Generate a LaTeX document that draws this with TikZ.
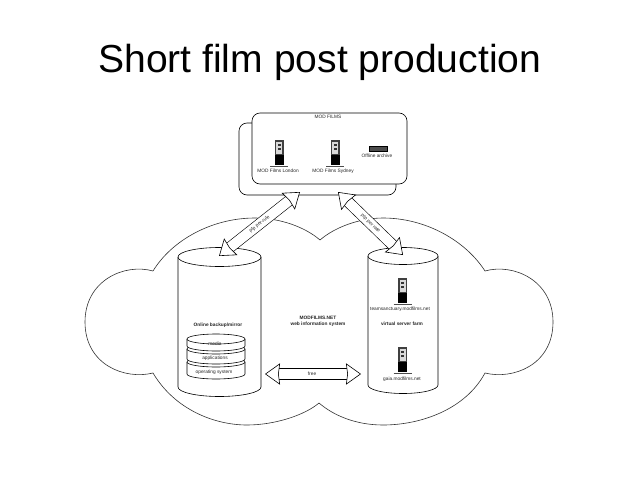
\documentclass[tikz,border=0pt]{standalone}
\usepackage{fontspec}
\setmainfont{Liberation Sans}
\usetikzlibrary{arrows.meta}
\tikzset{
    small label/.style={font=\fontsize{3.6}{4.2}\selectfont, inner sep=0pt, text=black!85},
    bold label/.style={font=\fontsize{3.6}{4.4}\selectfont\bfseries, inner sep=0pt, align=center, text=black!85},
    link/.style={double, double distance=7.5pt, line width=0.45pt,
        {Stealth[length=11.25pt, width=16pt, inset=1pt, fill=white]}-{Stealth[length=11.25pt, width=16pt, inset=1pt, fill=white]}},
    panel/.style={draw, fill=white, rounded corners=6pt, line width=0.45pt},
    server/.pic={
        \fill[black!75] (-4.5,0) rectangle (4.5,25); % Tower
        \fill[black!15] (-3,2) rectangle (3,14);     % Front panel
        \fill[black!80] (-1.5,4) rectangle (1.5,6);  % Slots
        \fill[black!80] (-1.5,8) rectangle (1.5,10);
        \fill[black] (-4.5,15) rectangle (4.5,25);   % Lower part
        \draw[line width=0.7pt, black!70] (-9,26) -- (9,26); % Foot
    }
}
% centre x, top y, bottom y, x radius, y radius
\newcommand{\drum}[5]{%
    \draw[fill=white, line width=0.45pt] (#1-#4,#2) -- (#1-#4,#3)
        arc[start angle=180, end angle=0, x radius=#4, y radius=#5] -- (#1+#4,#2);
    \draw[fill=white, line width=0.45pt] (#1,#2) ellipse[x radius=#4, y radius=#5];
}
\begin{document}
\begin{tikzpicture}[x=0.75pt, y=-0.75pt]
    \useasboundingbox (0,0) rectangle (638,478);

    % Title
    \node[anchor=base west, inner sep=0pt, font=\fontsize{29.3}{34}\selectfont] (title) at (98,72) {Short film post production};

    % Cloud
    \draw[line width=0.45pt, black!80] (153,271) .. controls (125,263) and (85,280) .. (85,322)
        .. controls (85,365) and (125,380) .. (153,373)
        .. controls (175,410) and (215,425) .. (247,425)
        .. controls (275,425) and (305,415) .. (319,403)
        .. controls (333,415) and (355,425) .. (383,425)
        .. controls (420,425) and (465,410) .. (485,373)
        .. controls (513,380) and (553,365) .. (553,322)
        .. controls (553,280) and (513,263) .. (485,271)
        .. controls (465,240) and (425,218) .. (383,218)
        .. controls (360,218) and (335,227) .. (320,240)
        .. controls (305,227) and (280,218) .. (255,218)
        .. controls (212,218) and (172,240) .. (153,271);

    % Offices
    \path[panel] (239,123) rectangle (396,195);
    \path[panel] (252,113) rectangle (407,184);
    \node[small label] (films) at (328,117) {MOD FILMS};
    \pic at (279,140) {server};
    \pic at (335,140) {server};
    \node[small label] (london) at (278,171) {MOD Films London};
    \node[small label] (sydney) at (333,171) {MOD Films Sydney};
    \node[draw, fill=black!70, minimum width=13.5pt, minimum height=3.75pt, inner sep=0pt] (archive) at (378,148.5) {};
    \node[small label] (archivelabel) at (377,156) {Offline archive};

    % Storage
    \drum{219.5}{257}{387}{41.5}{9.5}
    \drum{403}{256}{385}{35}{8.5}
    \node[small label] (backuplabel) at (218,325) {\textbf{Online backup/mirror}};
    \foreach \t/\b in {362/374, 349/359, 339/346} {
        \drum{216}{\t}{\b}{29}{5}
    }
    \node[small label] (media) at (215,344) {media};
    \node[small label] (apps) at (215,358) {applications};
    \node[small label] (system) at (214,372) {operating system};

    % Virtual servers
    \pic at (402.5,278) {server};
    \pic at (402.5,347) {server};
    \node[small label] (sanctuary) at (400,309) {teamsanctuary.modfilms.net};
    \node[small label] (virtual) at (402,324) {\textbf{virtual server farm}};
    \node[small label] (gaia) at (402,379) {gaia.modfilms.net};

    % Middle
    \node[bold label] (info) at (318,321) {MODFILMS.NET\\web information system};

    % Links
    \coordinate (a1) at (219,256);
    \coordinate (a2) at (300,192);
    \coordinate (b1) at (403,255);
    \coordinate (b2) at (338,192);
    \coordinate (c1) at (265,374);
    \coordinate (c2) at (361,374);
    \draw[link] (a1) -- node[small label, sloped, pos=0.5] (alabel) {ptp per-rule} (a2);
    \draw[link] (b2) -- node[small label, sloped, pos=0.5] (blabel) {ptp per rate} (b1);
    \draw[link] (c1) -- node[small label, pos=0.49] (clabel) {free} (c2);
\end{tikzpicture}
\end{document}
